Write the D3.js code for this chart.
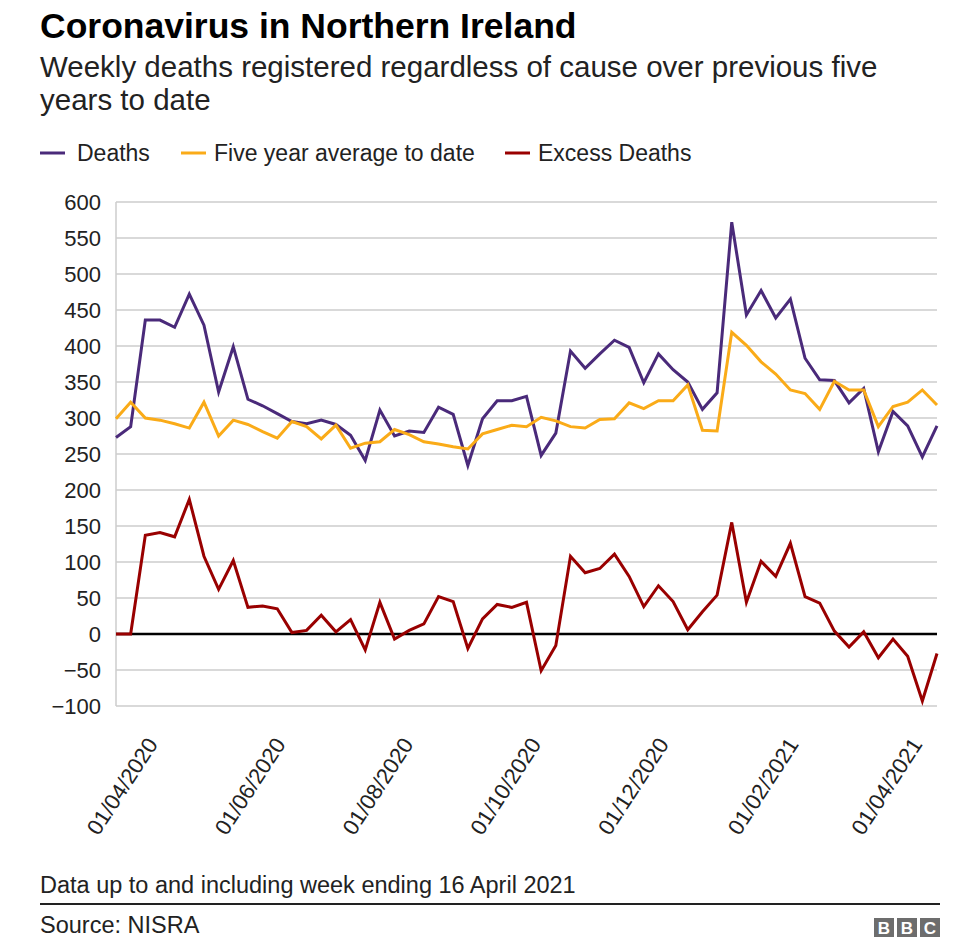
<!DOCTYPE html>
<html lang="en">
<head>
<meta charset="UTF-8">
<title>Coronavirus in Northern Ireland</title>
<script src="https://d3js.org/d3.v7.min.js"></script>
<style>
    body {
        margin: 0;
        padding: 0;
        background: #fff;
        font-family: "Liberation Sans", Arial, Helvetica, sans-serif;
    }
    svg {
        display: block;
    }
</style>
</head>
<body>
<script>
    // weekly deaths registered, week ending 20/03/2020 .. 16/04/2021
    const firstWeek = new Date(2020, 2, 20);
    const lastWeek = new Date(2021, 3, 16);

    const deaths = [273, 288, 436, 436, 426, 472, 429, 336, 399, 326, 317, 306, 295, 292, 297, 291, 276, 241, 311, 275,
        282, 280, 315, 305, 234, 299, 324, 324, 330, 248, 279, 393, 369, 389, 408, 398, 349, 389, 367, 350,
        312, 335, 572, 443, 477, 439, 465, 383, 353, 352, 321, 341, 253, 309, 289, 246, 289];

    const fiveYearAverage = [299, 322, 300, 297, 292, 286, 322, 275, 297, 291, 281, 272, 295, 288, 271, 290, 258, 265, 267, 284,
        277, 267, 264, 260, 257, 278, 284, 290, 288, 301, 296, 288, 286, 298, 299, 321, 313, 324, 324, 346,
        283, 282, 419, 401, 378, 361, 339, 334, 312, 351, 339, 339, 288, 316, 322, 339, 318];

    const excessDeaths = [0, 0, 137, 141, 135, 187, 108, 62, 102, 37, 39, 35, 2, 5, 26, 3, 20, -22, 44, -7,
        5, 14, 52, 45, -20, 21, 41, 37, 44, -51, -16, 108, 85, 91, 111, 80, 38, 67, 45, 6,
        31, 54, 155, 44, 101, 80, 126, 52, 43, 4, -18, 3, -33, -7, -31, -93, -27];

    const seriesNames = ["Deaths", "Five year average to date", "Excess Deaths"];
    const seriesColors = ["#4a2a7a", "#faab18", "#990000"];

    const yTicks = [-100, -50, 0, 50, 100, 150, 200, 250, 300, 350, 400, 450, 500, 550, 600];
    const xTickLabels = ["01/04/2020", "01/06/2020", "01/08/2020", "01/10/2020", "01/12/2020", "01/02/2021", "01/04/2021"];

    const width = 976;
    const height = 949;

    const weeks = d3.timeFriday.range(firstWeek, d3.timeDay.offset(lastWeek, 1));
    const parseTick = d3.timeParse("%d/%m/%Y");

    const svg = d3.select("body").append("svg")
        .attr("width", width)
        .attr("height", height);

    const x = d3.scaleTime()
        .domain([weeks[0], weeks[weeks.length - 1]])
        .range([116, 937]);

    const y = d3.scaleLinear()
        .domain([-100, 600])
        .range([706, 202]);

    // titles
    svg.append("text")
        .attr("x", 40).attr("y", 38)
        .style("font-size", "35.5px")
        .style("font-weight", "bold")
        .attr("fill", "#000")
        .text("Coronavirus in Northern Ireland");

    const sub = svg.append("text")
        .attr("x", 40).attr("y", 77)
        .style("font-size", "29.5px")
        .attr("fill", "#222");
    sub.append("tspan").attr("x", 40).text("Weekly deaths registered regardless of cause over previous five");
    sub.append("tspan").attr("x", 40).attr("dy", 33).text("years to date");

    // legend
    const legendX = [40, 181, 505];
    const legend = svg.append("g").selectAll("g")
        .data(seriesNames)
        .enter().append("g")
        .attr("transform", (d, i) => `translate(${legendX[i]},153)`);

    legend.append("line")
        .attr("x1", 0).attr("x2", 25)
        .attr("stroke", (d, i) => seriesColors[i])
        .attr("stroke-width", 3);

    legend.append("text")
        .attr("x", (d, i) => i === 0 ? 37 : 33)
        .attr("dy", "0.35em")
        .style("font-size", "23px")
        .attr("fill", "#222")
        .text(d => d);

    // grid
    const grid = svg.append("g");
    grid.selectAll("line")
        .data(yTicks)
        .enter().append("line")
        .attr("x1", x.range()[0]).attr("x2", x.range()[1])
        .attr("y1", d => y(d)).attr("y2", d => y(d))
        .attr("stroke", "#cccccc")
        .attr("stroke-width", 1.5);

    grid.append("line")
        .attr("x1", x.range()[0]).attr("x2", x.range()[0])
        .attr("y1", y(600)).attr("y2", y(-100))
        .attr("stroke", "#cccccc")
        .attr("stroke-width", 1.5);

    svg.append("g").selectAll("text")
        .data(yTicks)
        .enter().append("text")
        .attr("x", 101)
        .attr("y", d => y(d))
        .attr("dy", "0.35em")
        .attr("text-anchor", "end")
        .style("font-size", "22px")
        .attr("fill", "#222")
        .text(d => d < 0 ? "\u2212" + Math.abs(d) : d);

    svg.append("line")
        .attr("x1", x.range()[0]).attr("x2", x.range()[1])
        .attr("y1", y(0)).attr("y2", y(0))
        .attr("stroke", "#000")
        .attr("stroke-width", 2.5);

    // x labels
    svg.append("g").selectAll("text")
        .data(xTickLabels)
        .enter().append("text")
        .attr("transform", d => `translate(${x(parseTick(d)) + 11},740) rotate(-57)`)
        .attr("dy", "0.35em")
        .attr("text-anchor", "end")
        .style("font-size", "22px")
        .attr("fill", "#222")
        .text(d => d);

    // lines
    const allSeries = [deaths, fiveYearAverage, excessDeaths];
    const line = d3.line()
        .x((d, i) => x(weeks[i]))
        .y(d => y(d));

    svg.append("g").selectAll("path")
        .data(allSeries)
        .enter().append("path")
        .attr("d", line)
        .attr("fill", "none")
        .attr("stroke", (d, i) => seriesColors[i])
        .attr("stroke-width", 3)
        .attr("stroke-linejoin", "miter");

    // footer
    svg.append("text")
        .attr("x", 40).attr("y", 893)
        .style("font-size", "23.5px")
        .attr("fill", "#222")
        .text("Data up to and including week ending 16 April 2021");

    svg.append("line")
        .attr("x1", 40).attr("x2", 940)
        .attr("y1", 904).attr("y2", 904)
        .attr("stroke", "#222")
        .attr("stroke-width", 2);

    svg.append("text")
        .attr("x", 40).attr("y", 933)
        .style("font-size", "23.5px")
        .attr("fill", "#222")
        .text("Source: NISRA");

    const bbc = svg.append("g").attr("transform", "translate(874,918)");
    bbc.selectAll("rect")
        .data(["B", "B", "C"])
        .enter().append("rect")
        .attr("x", (d, i) => i * 23)
        .attr("width", 20).attr("height", 19)
        .attr("fill", "#6d6d6d");
    bbc.selectAll("text")
        .data(["B", "B", "C"])
        .enter().append("text")
        .attr("x", (d, i) => i * 23 + 10)
        .attr("y", 16)
        .attr("text-anchor", "middle")
        .style("font-size", "17px")
        .style("font-weight", "bold")
        .attr("fill", "#fff")
        .text(d => d);
</script>
</body>
</html>
